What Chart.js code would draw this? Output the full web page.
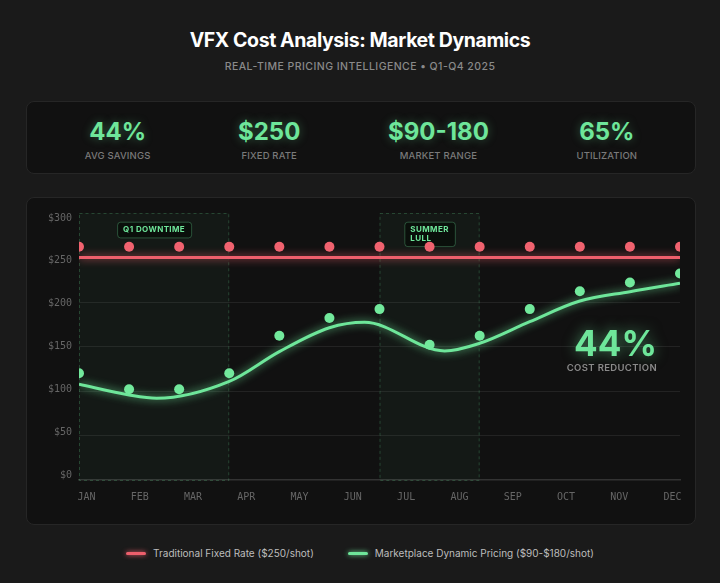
<!DOCTYPE html>
<html>
<head>
<meta charset="utf-8">
<script src="https://cdn.jsdelivr.net/npm/chart.js@4.4.1/dist/chart.umd.min.js"></script>
<style>
  html, body { margin: 0; padding: 0; }
  body {
    width: 720px; height: 583px; overflow: hidden; position: relative;
    background: #1a1a1a; font-family: Inter, "Open Sans", sans-serif;
  }
  #title {
    position: absolute; left: 0; width: 720px; top: 27px; text-align: center;
    color: #fff; font-size: 19.5px; font-weight: 700; line-height: 26px; letter-spacing: -0.4px;
  }
  #subtitle {
    position: absolute; left: 0; width: 720px; top: 60px; text-align: center;
    color: #8a8a8a; font-size: 10.5px; font-weight: 500; line-height: 14px; letter-spacing: 0.45px;
  }
  #kpis {
    position: absolute; left: 26px; top: 101px; width: 670px; height: 73px; box-sizing: border-box;
    background: #111; border: 1px solid #262626; border-radius: 8px;
    display: flex; justify-content: space-around; align-items: center; padding: 3px 14px 0 14px;
  }
  .kpi { text-align: center; }
  .kpi .v {
    color: #6ee69a; font-size: 24px; font-weight: 700; line-height: 28px;
    text-shadow: 0 0 10px rgba(110, 230, 154, 0.35);
  }
  .kpi .l {
    color: #7a7a7a; font-size: 9.5px; font-weight: 500; letter-spacing: 0.15px; margin-top: 4px;
  }
  #panel {
    position: absolute; left: 26px; top: 197px; width: 670px; height: 328px; box-sizing: border-box;
    background: #111; border: 1px solid #262626; border-radius: 8px;
  }
  #panel canvas { position: absolute; left: 0; top: 0; }
  #callout { position: absolute; right: 38px; top: 128px; text-align: right; }
  #callout .big {
    color: #6ee69a; font-size: 35px; font-weight: 700; line-height: 35px;
    text-shadow: 0 0 14px rgba(110, 230, 154, 0.55);
  }
  #callout .small {
    color: #8a8a8a; font-size: 9.5px; font-weight: 600; line-height: 11px; letter-spacing: 0.35px;
    margin-top: 1px;
  }
  #legend {
    position: absolute; left: 0; width: 720px; top: 546px; display: flex; justify-content: center; gap: 34px;
    color: #bdbdbd; font-size: 10px; line-height: 14px;
  }
  #legend .item { display: flex; align-items: center; gap: 7px; }
  #legend .sw { width: 20px; height: 3px; border-radius: 2px; }
</style>
</head>
<body>
<div id="title">VFX Cost Analysis: Market Dynamics</div>
<div id="subtitle">REAL-TIME PRICING INTELLIGENCE • Q1-Q4 2025</div>
<div id="kpis"></div>
<div id="panel">
  <canvas id="costChart" width="668" height="326"></canvas>
  <div id="callout"><div class="big">44%</div><div class="small">COST REDUCTION</div></div>
</div>
<div id="legend"></div>

<script>
// Data
const months = ["JAN", "FEB", "MAR", "APR", "MAY", "JUN", "JUL", "AUG", "SEP", "OCT", "NOV", "DEC"];
const yTicks = [0, 50, 100, 150, 200, 250, 300];

// 13 sample slots across the year
const slots = [0, 1, 2, 3, 4, 5, 6, 7, 8, 9, 10, 11, 12];
const fixedRate = [250, 250, 250, 250, 250, 250, 250, 250, 250, 250, 250, 250, 250];
const fixedMarkers = [262, 262, 262, 262, 262, 262, 262, 262, 262, 262, 262, 262, 262];
const dynamicMarkers = [120, 102, 102, 120, 162, 182, 192, 152, 162, 192, 212, 222, 232];

// smoothed market trend
const trendX = [0, 1, 1.55, 3, 4, 5, 5.7, 7.3, 8, 9, 10, 11, 12];
const trendY = [107.5, 95.5, 91.8, 110.7, 144.2, 171.1, 177.2, 145, 153.6, 177.9, 201.1, 211.6, 221];

// shaded periods
const zoneFrom = [0, 6];
const zoneTo = [3, 8];
const zoneText = [["Q1 DOWNTIME"], ["SUMMER", "LULL"]];

const kpiValues = ["44%", "$250", "$90-180", "65%"];
const kpiLabels = ["AVG SAVINGS", "FIXED RATE", "MARKET RANGE", "UTILIZATION"];

const seriesNames = ["Traditional Fixed Rate ($250/shot)", "Marketplace Dynamic Pricing ($90-$180/shot)"];
const seriesColors = ["#ee5f6c", "#6ee69a"];

// KPI strip
const kpis = document.getElementById("kpis");
kpiValues.forEach((v, i) => {
  const d = document.createElement("div");
  d.className = "kpi";
  d.innerHTML = `<div class="v">${v}</div><div class="l">${kpiLabels[i]}</div>`;
  kpis.appendChild(d);
});

// Legend
const legend = document.getElementById("legend");
seriesNames.forEach((name, i) => {
  const d = document.createElement("div");
  d.className = "item";
  d.innerHTML = `<span class="sw" style="background:${seriesColors[i]};box-shadow:0 0 5px ${seriesColors[i]}"></span><span>${name}</span>`;
  legend.appendChild(d);
});

const pts = (xs, ys) => ys.map((y, i) => ({ x: xs[i], y }));

// glow under lines
const glowPlugin = {
  id: "glow",
  beforeDatasetDraw(chart, args) {
    const ds = chart.data.datasets[args.index];
    if (!ds.glow) return;
    chart.ctx.save();
    chart.ctx.shadowColor = ds.glow;
    chart.ctx.shadowBlur = 9;
  },
  afterDatasetDraw(chart, args) {
    if (chart.data.datasets[args.index].glow) chart.ctx.restore();
  }
};

// shaded periods + their tags
const zonesPlugin = {
  id: "zones",
  beforeDatasetsDraw(chart) {
    const { ctx, chartArea: a, scales: { x } } = chart;
    zoneFrom.forEach((from, i) => {
      const l = x.getPixelForValue(from);
      const r = x.getPixelForValue(zoneTo[i]);
      ctx.save();
      ctx.fillStyle = "rgba(110, 230, 154, 0.04)";
      ctx.fillRect(l, a.top, r - l, a.bottom - a.top);
      ctx.strokeStyle = "rgba(110, 230, 154, 0.22)";
      ctx.lineWidth = 1;
      ctx.setLineDash([3, 3]);
      ctx.strokeRect(l + 0.5, a.top + 0.5, r - l - 1, a.bottom - a.top);
      ctx.setLineDash([]);

      const lines = zoneText[i];
      ctx.font = "bold 8px Inter, sans-serif";
      ctx.letterSpacing = "0.4px";
      const tw = Math.max(...lines.map(t => ctx.measureText(t).width));
      const lh = 8.7;
      const padX = 6, padY = 3.5;
      const w = tw + padX * 2;
      const h = lines.length * lh + padY * 2;
      const bx = (l + r) / 2 - w / 2;
      const by = a.top + 8.7;
      ctx.fillStyle = "#0a0f0b";
      ctx.strokeStyle = "rgba(110, 230, 154, 0.3)";
      ctx.beginPath();
      ctx.roundRect(bx + 0.5, by + 0.5, w, h, 3);
      ctx.fill();
      ctx.stroke();
      ctx.fillStyle = "#6ee69a";
      ctx.textBaseline = "middle";
      ctx.textAlign = "left";
      lines.forEach((t, j) => ctx.fillText(t, bx + padX, by + padY + lh * (j + 0.5) + 0.5));
      ctx.restore();
    });
  }
};

new Chart(document.getElementById("costChart"), {
  type: "line",
  data: {
    datasets: [
      {
        label: seriesNames[0],
        data: pts(slots, fixedRate),
        borderColor: seriesColors[0],
        borderWidth: 3,
        pointRadius: 0,
        glow: "rgba(238, 95, 108, 0.85)",
        order: 1
      },
      {
        label: seriesNames[1],
        data: pts(trendX, trendY),
        borderColor: seriesColors[1],
        borderWidth: 3,
        pointRadius: 0,
        cubicInterpolationMode: "monotone",
        glow: "rgba(110, 230, 154, 0.85)",
        order: 1
      },
      {
        label: "fixed markers",
        data: pts(slots, fixedMarkers),
        showLine: false,
        pointRadius: 5,
        pointBorderWidth: 0,
        pointBackgroundColor: "#f0626f",
        clip: 0,
        order: 0
      },
      {
        label: "dynamic markers",
        data: pts(slots, dynamicMarkers),
        showLine: false,
        pointRadius: 5,
        pointBorderWidth: 0,
        pointBackgroundColor: "#72e99c",
        clip: 0,
        order: 0
      }
    ]
  },
  options: {
    responsive: false,
    animation: false,
    events: [],
    devicePixelRatio: 1,
    layout: { padding: { top: 15, right: 15, left: 0, bottom: 0 } },
    plugins: { legend: { display: false }, tooltip: { enabled: false } },
    scales: {
      x: { type: "linear", min: 0, max: 12, display: false },
      xm: {
        type: "linear", position: "bottom", min: -0.141, max: 11.141, bounds: "data",
        afterBuildTicks: s => { s.ticks = months.map((m, i) => ({ value: i })); },
        afterFit: s => { s.height = 44; },
        grid: { display: false },
        border: { display: true, color: "#333", width: 1.5 },
        ticks: {
          autoSkip: false, maxRotation: 0, padding: 3, color: "#666",
          font: { family: "DejaVu Sans Mono", size: 10 },
          callback: v => months[v]
        }
      },
      y: {
        type: "linear", position: "left", min: 0, max: 300,
        afterFit: s => { s.width = 0; },
        ticks: { display: false, stepSize: 50 },
        border: { display: false },
        grid: {
          drawTicks: false,
          color: c => (c.tick.value === 300 || c.tick.value === 0) ? "rgba(0,0,0,0)" : "#232323"
        }
      },
      yl: {
        type: "linear", position: "left", min: -5.5, max: 305.8, bounds: "data",
        afterBuildTicks: s => { s.ticks = yTicks.map(v => ({ value: v })); },
        afterFit: s => { s.width = 52; },
        grid: { display: false, drawTicks: false },
        border: { display: false },
        ticks: {
          padding: 7, color: "#666",
          font: { family: "DejaVu Sans Mono", size: 10 },
          callback: v => "$" + v
        }
      }
    }
  },
  plugins: [glowPlugin, zonesPlugin]
});
</script>
</body>
</html>
